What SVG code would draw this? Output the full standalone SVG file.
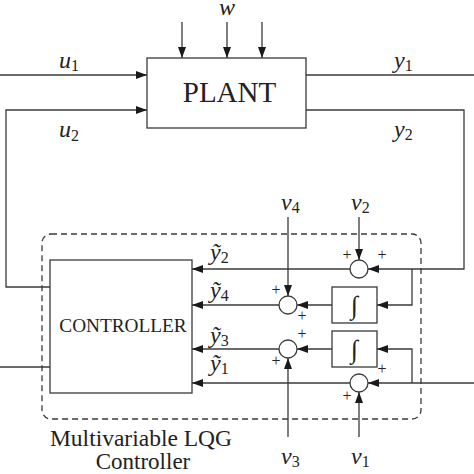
<svg xmlns="http://www.w3.org/2000/svg" width="474" height="474" viewBox="0 0 474 474">
<defs>
<marker id="ah" markerUnits="userSpaceOnUse" markerWidth="11" markerHeight="8" refX="11" refY="4" orient="auto">
<path d="M0,0 L11,4 L0,8 z" fill="#1a1a1a"/>
</marker>
<style>
.ln{fill:none;stroke:#3a3a3a;stroke-width:1.3}
.ar{marker-end:url(#ah)}
.bx{fill:#fff;stroke:#3a3a3a;stroke-width:1.3}
.m{font-family:"Liberation Serif",serif;font-style:italic;font-size:24px;fill:#222}
.s{font-family:"Liberation Serif",serif;font-style:normal;font-size:16px}
.t{font-family:"Liberation Serif",serif;fill:#222}
.p{font-family:"Liberation Serif",serif;font-size:16px;fill:#222;text-anchor:middle}
</style>
</defs>
<rect width="474" height="474" fill="#fff"/>
<g id="connectors">
<path class="ln ar" d="M0,75 H147"/>
<path class="ln ar" d="M50,287 H6 V110 H147"/>
<path class="ln" d="M306,75 H474"/>
<path class="ln ar" d="M306,110 H464 V269 H368"/>
<path class="ln ar" d="M182,22 V58"/>
<path class="ln ar" d="M227,22 V58"/>
<path class="ln ar" d="M262,22 V58"/>
<path class="ln ar" d="M359,217 V260"/>
<path class="ln ar" d="M412,269 V305 H377"/>
<path class="ln ar" d="M332,305 H297"/>
<path class="ln ar" d="M279,305 H192"/>
<path class="ln ar" d="M288,217 V296"/>
<path class="ln ar" d="M350,269 H192"/>
<path class="ln ar" d="M332,349 H297"/>
<path class="ln ar" d="M279,349 H192"/>
<path class="ln ar" d="M288,437 V358"/>
<path class="ln ar" d="M474,383 H368"/>
<path class="ln ar" d="M412,383 V349 H377"/>
<path class="ln ar" d="M350,383 H192"/>
<path class="ln ar" d="M359,437 V392"/>
<path class="ln" d="M0,367 H50"/>
</g>
<g id="lqg-boundary">
<rect x="42" y="234" width="379" height="185" rx="9" fill="none" stroke="#3a3a3a" stroke-width="1.3" stroke-dasharray="6,4"/>
<text class="t" x="141" y="446" font-size="23.5" text-anchor="middle">Multivariable LQG</text>
<text class="t" x="143" y="469" font-size="23" text-anchor="middle">Controller</text>
</g>
<g id="plant">
<rect class="bx" x="147" y="58" width="159" height="70"/>
<text class="t" x="229.5" y="102" font-size="29" text-anchor="middle">PLANT</text>
</g>
<g id="controller">
<rect class="bx" x="50" y="260" width="142" height="133"/>
<text class="t" x="123" y="332" font-size="19.3" text-anchor="middle">CONTROLLER</text>
</g>
<g id="sum1">
<circle class="bx" cx="359" cy="269" r="9"/>
<text class="p" x="347" y="260">+</text>
<text class="p" x="382" y="260">+</text>
</g>
<g id="sum2">
<circle class="bx" cx="288" cy="305" r="9"/>
<text class="p" x="276" y="295">+</text>
<text class="p" x="302" y="321">+</text>
</g>
<g id="sum3">
<circle class="bx" cx="288" cy="349" r="9"/>
<text class="p" x="302" y="339">+</text>
<text class="p" x="276" y="366">+</text>
</g>
<g id="sum4">
<circle class="bx" cx="359" cy="383" r="9"/>
<text class="p" x="382" y="374">+</text>
<text class="p" x="347" y="401">+</text>
</g>
<g id="int1">
<rect class="bx" x="332" y="287" width="45" height="36"/>
<text class="t" x="354.5" y="314" font-size="26" text-anchor="middle">∫</text>
</g>
<g id="int2">
<rect class="bx" x="332" y="331" width="45" height="36"/>
<text class="t" x="354.5" y="358" font-size="26" text-anchor="middle">∫</text>
</g>
<g id="labels">
<text class="m" x="219" y="15">w</text>
<text class="m" x="59" y="68">u<tspan class="s" dy="3">1</tspan></text>
<text class="m" x="59" y="137">u<tspan class="s" dy="4">2</tspan></text>
<text class="m" x="394" y="68">y<tspan class="s" dy="3">1</tspan></text>
<text class="m" x="394" y="137">y<tspan class="s" dy="3">2</tspan></text>
<text class="m" x="210" y="260">ỹ<tspan class="s" dy="3">2</tspan></text>
<text class="m" x="210" y="298">ỹ<tspan class="s" dy="3">4</tspan></text>
<text class="m" x="210" y="343">ỹ<tspan class="s" dy="3">3</tspan></text>
<text class="m" x="210" y="371">ỹ<tspan class="s" dy="3">1</tspan></text>
<text class="m" x="281" y="210">v<tspan class="s" dy="3">4</tspan></text>
<text class="m" x="351" y="210">v<tspan class="s" dy="3">2</tspan></text>
<text class="m" x="281" y="464">v<tspan class="s" dy="3">3</tspan></text>
<text class="m" x="351" y="464">v<tspan class="s" dy="3">1</tspan></text>
</g>
</svg>
